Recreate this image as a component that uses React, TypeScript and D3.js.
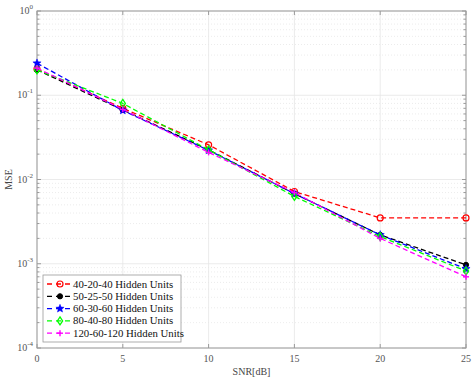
import React from "react";
import * as d3 from "d3";

const snr = [0, 5, 10, 15, 20, 25];
const seriesNames = [
  "40-20-40 Hidden Units",
  "50-25-50 Hidden Units",
  "60-30-60 Hidden Units",
  "80-40-80 Hidden Units",
  "120-60-120 Hidden Units",
];
const s40 = [0.205, 0.07, 0.0258, 0.0072, 0.0035, 0.0035];
const s50 = [0.2, 0.067, 0.0225, 0.0068, 0.0022, 0.00097];
const s60 = [0.24, 0.066, 0.0222, 0.0068, 0.0022, 0.00087];
const s80 = [0.2, 0.08, 0.0225, 0.0063, 0.0021, 0.00082];
const s120 = [0.21, 0.068, 0.021, 0.007, 0.002, 0.0007];
const colors = ["#ff0000", "#000000", "#0000ff", "#00ff00", "#ff00ff"];
const markers = ["circle", "dot", "star", "diamond", "plus"];
const xTicks = [0, 5, 10, 15, 20, 25];
const yDecades = [0, -1, -2, -3, -4];

const W = 474, H = 380;
const m = { l: 37, r: 8, t: 11, b: 32 };

function Marker({ type, x, y, c }: { type: string; x: number; y: number; c: string }) {
  if (type === "circle") return <circle cx={x} cy={y} r={3} fill="none" stroke={c} strokeWidth={1.2} />;
  if (type === "dot") return <circle cx={x} cy={y} r={2.6} fill={c} stroke={c} />;
  if (type === "star") {
    const pts: string[] = [];
    for (let i = 0; i < 10; i++) {
      const r = i % 2 === 0 ? 4.3 : 1.9;
      const a = -Math.PI / 2 + (i * Math.PI) / 5;
      pts.push(`${x + r * Math.cos(a)},${y + r * Math.sin(a)}`);
    }
    return <polygon points={pts.join(" ")} fill={c} stroke={c} strokeWidth={0.5} />;
  }
  if (type === "diamond")
    return <polygon points={`${x},${y - 4} ${x + 2.6},${y} ${x},${y + 4} ${x - 2.6},${y}`} fill="none" stroke={c} strokeWidth={1.3} />;
  return (
    <g stroke={c} strokeWidth={1.4}>
      <line x1={x - 3} x2={x + 3} y1={y} y2={y} />
      <line x1={x} x2={x} y1={y - 3} y2={y + 3} />
    </g>
  );
}

export default function App() {
  const x = d3.scaleLinear().domain([0, 25]).range([m.l, W - m.r]);
  const y = d3.scaleLog().domain([1e-4, 1]).range([H - m.b - 0, m.t]);
  const x0 = m.l, x1 = W - m.r, y0 = m.t, y1 = H - m.b;
  const series = [s40, s50, s60, s80, s120];
  const line = d3
    .line<number>()
    .x((_, i) => x(snr[i]))
    .y((d) => y(d));
  const minors: number[] = [];
  for (let e = -4; e < 0; e++) for (let k = 2; k <= 9; k++) minors.push(k * Math.pow(10, e));
  const font = "'Liberation Serif', 'Times New Roman', serif";
  const lx = 43, ly = 275, lw = 138, lh = 67;
  return (
    <svg width={W} height={H} style={{ position: "absolute", left: 0, top: 0, background: "#fff" }}>
      <rect x={x0} y={y0} width={x1 - x0} height={y1 - y0} fill="#fff" />
      {minors.map((v, i) => (
        <line key={"mn" + i} x1={x0} x2={x1} y1={y(v)} y2={y(v)} stroke="#e4e4e4" strokeWidth={0.7} strokeDasharray="1,2" />
      ))}
      {yDecades.map((e) => (
        <line key={"mj" + e} x1={x0} x2={x1} y1={y(Math.pow(10, e))} y2={y(Math.pow(10, e))} stroke="#e6e6e6" strokeWidth={0.8} />
      ))}
      {xTicks.map((t) => (
        <line key={"vx" + t} x1={x(t)} x2={x(t)} y1={y0} y2={y1} stroke="#e6e6e6" strokeWidth={0.8} />
      ))}
      <rect x={x0} y={y0} width={x1 - x0} height={y1 - y0} fill="none" stroke="#9a9a9a" strokeWidth={1} />
      {xTicks.map((t) => (
        <g key={"xt" + t}>
          <line x1={x(t)} x2={x(t)} y1={y1} y2={y1 - 4} stroke="#9a9a9a" />
          <line x1={x(t)} x2={x(t)} y1={y0} y2={y0 + 4} stroke="#9a9a9a" />
          <text x={x(t)} y={y1 + 14} textAnchor="middle" fontFamily={font} fontSize={10} fill="#555">
            {t}
          </text>
        </g>
      ))}
      {minors.map((v, i) => (
        <g key={"ym" + i}>
          <line x1={x0} x2={x0 + 2.5} y1={y(v)} y2={y(v)} stroke="#9a9a9a" />
          <line x1={x1} x2={x1 - 2.5} y1={y(v)} y2={y(v)} stroke="#9a9a9a" />
        </g>
      ))}
      {yDecades.map((e) => (
        <g key={"yt" + e}>
          <line x1={x0} x2={x0 + 4} y1={y(Math.pow(10, e))} y2={y(Math.pow(10, e))} stroke="#9a9a9a" />
          <line x1={x1} x2={x1 - 4} y1={y(Math.pow(10, e))} y2={y(Math.pow(10, e))} stroke="#9a9a9a" />
          <text x={x0 - 4} y={y(Math.pow(10, e)) + 3} textAnchor="end" fontFamily={font} fontSize={10} fill="#555">
            10
            <tspan dy={-5} fontSize={7}>
              {e}
            </tspan>
          </text>
        </g>
      ))}
      <text x={(x0 + x1) / 2} y={H - 5} textAnchor="middle" fontFamily={font} fontSize={10} fill="#444">
        SNR[dB]
      </text>
      <text transform={`translate(12,${(y0 + y1) / 2}) rotate(-90)`} textAnchor="middle" fontFamily={font} fontSize={10} fill="#444">
        MSE
      </text>
      {series.map((s, si) => (
        <g key={"s" + si}>
          <path d={line(s) || ""} fill="none" stroke={colors[si]} strokeWidth={1.3} strokeDasharray="5,3" />
          {s.map((v, i) => (
            <Marker key={i} type={markers[si]} x={x(snr[i])} y={y(v)} c={colors[si]} />
          ))}
        </g>
      ))}
      <rect x={lx} y={ly} width={lw} height={lh} fill="#fff" stroke="#9a9a9a" strokeWidth={0.8} />
      {seriesNames.map((n, i) => {
        const yy = ly + 9 + i * 12.3;
        return (
          <g key={"lg" + i}>
            <line x1={lx + 4} x2={lx + 30} y1={yy} y2={yy} stroke={colors[i]} strokeWidth={1.3} strokeDasharray="5,4" />
            <Marker type={markers[i]} x={lx + 17} y={yy} c={colors[i]} />
            <text x={lx + 30} y={yy + 3.5} fontFamily={font} fontSize={10.8} fill="#111">
              {n}
            </text>
          </g>
        );
      })}
    </svg>
  );
}
